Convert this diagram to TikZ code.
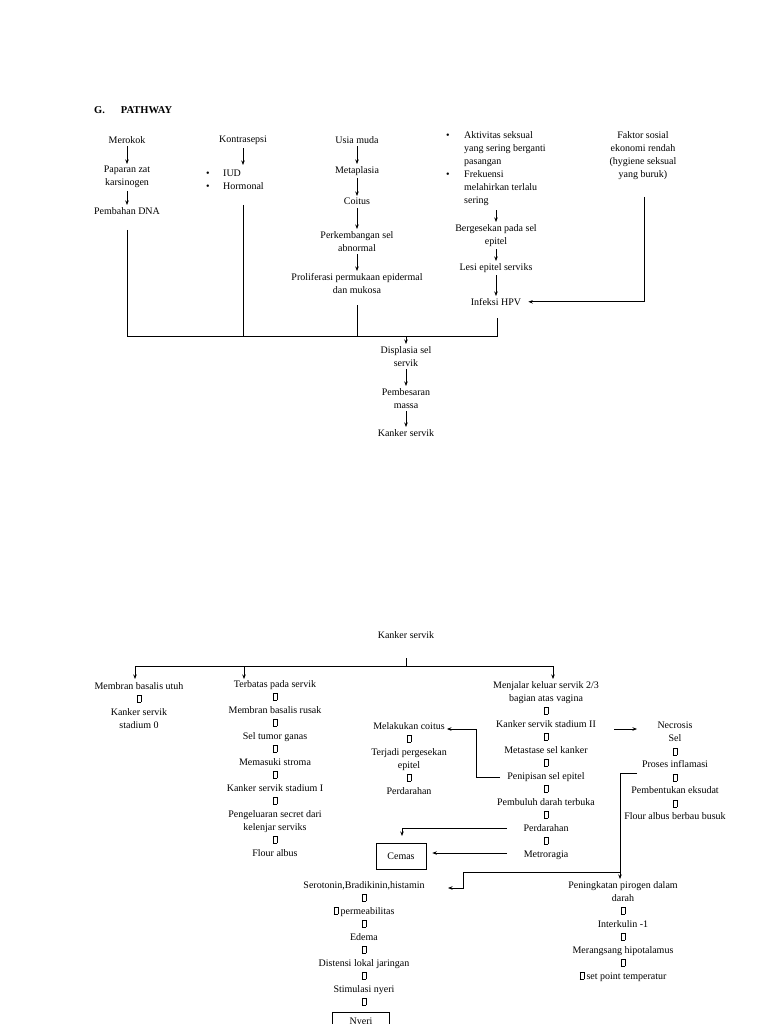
\documentclass[tikz,border=0pt]{standalone}
\usepackage{fontspec}
\setmainfont{Liberation Serif}
\usetikzlibrary{arrows.meta}
\newcommand\tfu{{\setlength{\fboxsep}{0pt}\setlength{\fboxrule}{0.5pt}\fbox{\rule{0pt}{6.5pt}\hspace{3.5pt}}}}
\tikzset{
 t/.style={font=\fontsize{10}{13}\selectfont, align=center, inner sep=0pt, anchor=north},
 ln/.style={line width=0.7pt},
 arr/.style={line width=0.7pt,-{Stealth[length=4.5pt,width=3.5pt]}},
 sa/.style={arr,shorten <=3pt,shorten >=2pt},
}
\begin{document}
\begin{tikzpicture}[x=1pt,y=-1pt]
\useasboundingbox (0,0) rectangle (768,1024);
\node[t,font=\fontsize{10.5}{13}\selectfont\bfseries,anchor=west] (g) at (94,110) {G.\hspace{16pt}PATHWAY};
% column 1
\node[t] (mer) at (127,136) {Merokok};
\node[t] (pap) at (127,166) {Paparan zat\\karsinogen};
\node[t] (dna) at (127,207) {Pembahan DNA};
\draw[sa] (mer) -- (pap); \draw[sa] (pap) -- (dna);
% column 2
\node[t] (kon) at (243,136) {Kontrasepsi};
\node[t,anchor=north west] (iud) at (206,167) {\begin{tabular}{@{}p{17pt}@{}l@{}}\textbullet & IUD\\ \textbullet & Hormonal\end{tabular}};
\draw[sa] (kon) -- (kon |- iud.north);
% column 3
\node[t] (usi) at (357,136) {Usia muda};
\node[t] (met) at (357,166) {Metaplasia};
\node[t] (coi) at (357,198) {Coitus};
\node[t] (per) at (357,231) {Perkembangan sel\\abnormal};
\node[t] (pro) at (357,273) {Proliferasi permukaan epidermal\\dan mukosa};
\draw[sa] (usi) -- (met); \draw[sa] (met) -- (coi); \draw[sa] (coi) -- (per); \draw[sa] (per) -- (pro);
% column 4
\node[t,anchor=north west] (akt) at (446,129) {\begin{tabular}{@{}p{18pt}@{}l@{}}\textbullet & Aktivitas seksual\\ & yang sering berganti\\ & pasangan\\ \textbullet & Frekuensi\\ & melahirkan terlalu\\ & sering\end{tabular}};
\node[t] (ber) at (496,224) {Bergesekan pada sel\\epitel};
\node[t] (les) at (496,263) {Lesi epitel serviks};
\node[t] (hpv) at (496,298) {Infeksi HPV};
\draw[sa] (ber |- akt.south) -- (ber); \draw[sa] (ber) -- (les); \draw[sa] (les) -- (hpv);
\node[t] (fak) at (643,131) {Faktor sosial\\ekonomi rendah\\(hygiene seksual\\yang buruk)};
\coordinate (fk) at (644,197);
\draw[arr,shorten >=7pt] (fk) |- (hpv.east);
% bar
\coordinate (b1) at (127,336); \coordinate (b4) at (497,336); \coordinate (bm) at (406,336);
\draw[ln] (127,230) -- (b1) -- (b4) -- (497,318);
\draw[ln] (243,205) -- (243,336);
\draw[ln] (357,305) -- (357,336);
\node[t] (dis) at (406,346) {Displasia sel\\servik};
\node[t] (pmb) at (406,388) {Pembesaran\\massa};
\node[t] (ks1) at (406,429) {Kanker servik};
\draw[arr,shorten >=2pt] (bm) -- (dis); \draw[sa] (pmb |- dis.south) -- (pmb); \draw[sa] (ks1 |- pmb.south) -- (ks1);
% bottom part
\node[t] (ks) at (406,631) {Kanker servik};
\coordinate (k0) at (406,658); \coordinate (kb) at (406,666);
\draw[ln] (k0) -- (kb);
\node[t] (c1) at (139,682) {Membran basalis utuh\\\tfu\\Kanker servik\\stadium 0};
\node[t] (c2) at (275,680) {Terbatas pada servik\\\tfu\\Membran basalis rusak\\\tfu\\Sel tumor ganas\\\tfu\\Memasuki stroma\\\tfu\\Kanker servik stadium I\\\tfu\\Pengeluaran secret dari\\kelenjar serviks\\\tfu\\Flour albus};
\node[t] (c3) at (546,681) {Menjalar keluar servik 2/3\\bagian atas vagina\\\tfu\\Kanker servik stadium II\\\tfu\\Metastase sel kanker\\\tfu\\Penipisan sel epitel\\\tfu\\Pembuluh darah terbuka\\\tfu\\Perdarahan\\\tfu\\Metroragia};
\draw[arr] (kb) -| (135,679);
\draw[arr] (kb) -| (244,679);
\draw[arr] (kb) -| (553,679);
\node[t] (c4) at (409,722) {Melakukan coitus\\\tfu\\Terjadi pergesekan\\epitel\\\tfu\\Perdarahan};
\node[t] (c5) at (675,722) {Necrosis\\Sel\\\tfu\\Proses inflamasi\\\tfu\\Pembentukan eksudat\\\tfu\\Flour albus berbau busuk};
\node[draw,line width=0.6pt,minimum width=50pt,minimum height=26pt,font=\fontsize{10}{13}\selectfont] (cem) at (401,856) {Cemas};
\coordinate (s2) at (614,729); \coordinate (e2) at (637,729);
\draw[arr] (s2) -- (e2);
\coordinate (pn) at (500,777);
\draw[arr] (pn) -- (476,777) -- (476,729) -- (c4.north east |- 0,729);
\coordinate (pd) at (507,828);
\draw[arr] (pd) -| (402,836);
\coordinate (mt) at (507,853);
\draw[arr,shorten >=6pt] (mt) -- (cem.east |- mt);
\coordinate (pi) at (637,773); \coordinate (j) at (620,872);
\node[t] (c6) at (364,881) {Serotonin,Bradikinin,histamin\\\tfu\\\tfu\ permeabilitas\\\tfu\\Edema\\\tfu\\Distensi lokal jaringan\\\tfu\\Stimulasi nyeri\\\tfu};
\node[t] (c7) at (623,881) {Peningkatan pirogen dalam\\darah\\\tfu\\Interkulin -1\\\tfu\\Merangsang hipotalamus\\\tfu\\\tfu\ set point temperatur};
\draw[ln] (pi) -| (j);
\draw[arr] (j) -- (620,879);
\draw[arr] (j) -- (463,872) -- (463,888) -- (448,888);
\node[draw,line width=0.6pt,minimum width=57pt,minimum height=24pt,anchor=north,font=\fontsize{10}{13}\selectfont,text depth=6pt] (ny) at (361,1012) {Nyeri};
\end{tikzpicture}
\end{document}
